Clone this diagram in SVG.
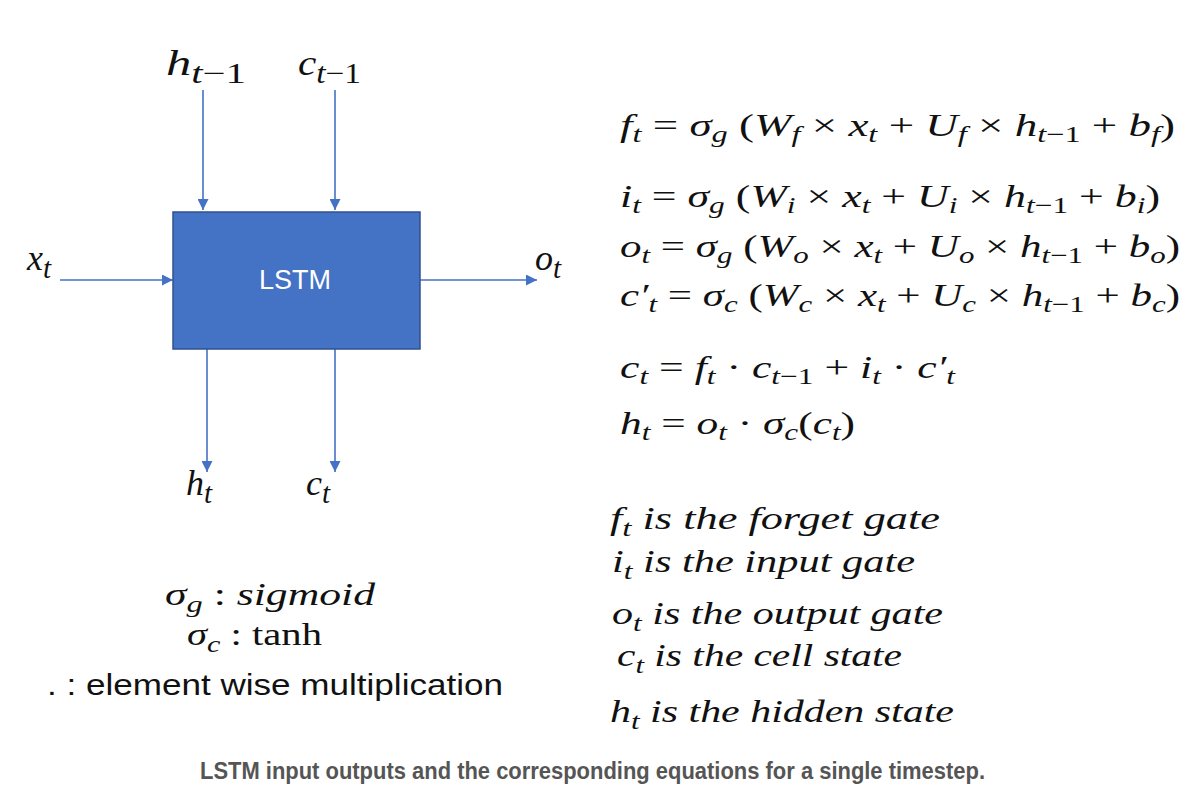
<svg xmlns="http://www.w3.org/2000/svg" width="1200" height="802" viewBox="0 0 1200 802">
<style>
.m{font-family:"Liberation Serif","DejaVu Serif",serif;font-style:italic;fill:#111;}
.u{font-style:normal;}
.lbl{font-size:36px;}
.eq{font-size:32px;}
.desc{font-size:31px;}
.conn{stroke:#4472C4;stroke-width:1.6;fill:none;marker-end:url(#ah);}
.sans{font-family:"Liberation Sans","Open Sans",sans-serif;}
</style>
<defs>
<marker id="ah" viewBox="0 0 10 10" refX="10" refY="5" markerWidth="11" markerHeight="11" markerUnits="userSpaceOnUse" orient="auto">
<path d="M0,0 L10,5 L0,10 z" fill="#4472C4"/>
</marker>
</defs>
<rect width="1200" height="802" fill="#ffffff"/>

<g id="connectors">
<line class="conn" x1="203" y1="90" x2="203" y2="210"/>
<line class="conn" x1="335" y1="90" x2="335" y2="210"/>
<line class="conn" x1="60" y1="280" x2="173" y2="280"/>
<line class="conn" x1="420" y1="280" x2="537" y2="280"/>
<line class="conn" x1="207" y1="349" x2="207" y2="472"/>
<line class="conn" x1="335" y1="349" x2="335" y2="472"/>
</g>

<g id="lstm">
<rect x="173" y="212" width="247" height="137" fill="#4472C4" stroke="#2F528F" stroke-width="1.5"/>
<text class="sans" x="295" y="289" font-size="27" fill="#ffffff" text-anchor="middle">LSTM</text>
</g>

<g id="label-h-prev"><text class="m lbl" x="166" y="75" textLength="80" lengthAdjust="spacingAndGlyphs">h<tspan font-size="29" dy="8">t</tspan><tspan class="u" font-size="29">−1</tspan></text></g>
<g id="label-c-prev"><text class="m lbl" x="298" y="75" textLength="63" lengthAdjust="spacingAndGlyphs">c<tspan font-size="29" dy="8">t</tspan><tspan class="u" font-size="29">−1</tspan></text></g>
<g id="label-x"><text class="m lbl" x="27" y="270">x<tspan font-size="29" dy="8">t</tspan></text></g>
<g id="label-o"><text class="m lbl" x="535" y="270">o<tspan font-size="29" dy="8">t</tspan></text></g>
<g id="label-h"><text class="m lbl" x="186" y="495">h<tspan font-size="29" dy="8">t</tspan></text></g>
<g id="label-c"><text class="m lbl" x="306" y="495">c<tspan font-size="29" dy="8">t</tspan></text></g>

<g id="equations">
<text class="m eq" x="620" y="136" textLength="555" lengthAdjust="spacingAndGlyphs">f<tspan font-size="23" dy="6">t</tspan><tspan class="u" dy="-6"> = </tspan>σ<tspan font-size="23" dy="6">g</tspan><tspan class="u" dy="-6"> (</tspan>W<tspan font-size="23" dy="6">f</tspan><tspan class="u" dy="-6"> ×  </tspan>x<tspan font-size="23" dy="6">t</tspan><tspan class="u" dy="-6"> + </tspan>U<tspan font-size="23" dy="6">f</tspan><tspan class="u" dy="-6"> × </tspan>h<tspan font-size="23" dy="6">t</tspan><tspan class="u" font-size="23">−1</tspan><tspan class="u" dy="-6"> + </tspan>b<tspan font-size="23" dy="6">f</tspan><tspan class="u" dy="-6">)</tspan></text>
<text class="m eq" x="620" y="207" textLength="540" lengthAdjust="spacingAndGlyphs">i<tspan font-size="23" dy="6">t</tspan><tspan class="u" dy="-6"> = </tspan>σ<tspan font-size="23" dy="6">g</tspan><tspan class="u" dy="-6"> (</tspan>W<tspan font-size="23" dy="6">i</tspan><tspan class="u" dy="-6"> ×  </tspan>x<tspan font-size="23" dy="6">t</tspan><tspan class="u" dy="-6"> + </tspan>U<tspan font-size="23" dy="6">i</tspan><tspan class="u" dy="-6"> × </tspan>h<tspan font-size="23" dy="6">t</tspan><tspan class="u" font-size="23">−1</tspan><tspan class="u" dy="-6"> + </tspan>b<tspan font-size="23" dy="6">i</tspan><tspan class="u" dy="-6">)</tspan></text>
<text class="m eq" x="620" y="257" textLength="560" lengthAdjust="spacingAndGlyphs">o<tspan font-size="23" dy="6">t</tspan><tspan class="u" dy="-6"> = </tspan>σ<tspan font-size="23" dy="6">g</tspan><tspan class="u" dy="-6"> (</tspan>W<tspan font-size="23" dy="6">o</tspan><tspan class="u" dy="-6"> ×  </tspan>x<tspan font-size="23" dy="6">t</tspan><tspan class="u" dy="-6"> + </tspan>U<tspan font-size="23" dy="6">o</tspan><tspan class="u" dy="-6"> × </tspan>h<tspan font-size="23" dy="6">t</tspan><tspan class="u" font-size="23">−1</tspan><tspan class="u" dy="-6"> + </tspan>b<tspan font-size="23" dy="6">o</tspan><tspan class="u" dy="-6">)</tspan></text>
<text class="m eq" x="620" y="306" textLength="560" lengthAdjust="spacingAndGlyphs">c′<tspan font-size="23" dy="6">t</tspan><tspan class="u" dy="-6"> = </tspan>σ<tspan font-size="23" dy="6">c</tspan><tspan class="u" dy="-6"> (</tspan>W<tspan font-size="23" dy="6">c</tspan><tspan class="u" dy="-6"> ×  </tspan>x<tspan font-size="23" dy="6">t</tspan><tspan class="u" dy="-6"> + </tspan>U<tspan font-size="23" dy="6">c</tspan><tspan class="u" dy="-6"> × </tspan>h<tspan font-size="23" dy="6">t</tspan><tspan class="u" font-size="23">−1</tspan><tspan class="u" dy="-6"> + </tspan>b<tspan font-size="23" dy="6">c</tspan><tspan class="u" dy="-6">)</tspan></text>
<text class="m eq" x="620" y="378" textLength="335" lengthAdjust="spacingAndGlyphs">c<tspan font-size="23" dy="6">t</tspan><tspan class="u" dy="-6"> = </tspan>f<tspan font-size="23" dy="6">t</tspan><tspan class="u" dy="-6"> · </tspan>c<tspan font-size="23" dy="6">t</tspan><tspan class="u" font-size="23">−1</tspan><tspan class="u" dy="-6"> + </tspan>i<tspan font-size="23" dy="6">t</tspan><tspan class="u" dy="-6"> · </tspan>c′<tspan font-size="23" dy="6">t</tspan></text>
<text class="m eq" x="620" y="434" textLength="235" lengthAdjust="spacingAndGlyphs">h<tspan font-size="23" dy="6">t</tspan><tspan class="u" dy="-6"> = </tspan>o<tspan font-size="23" dy="6">t</tspan><tspan class="u" dy="-6"> · </tspan>σ<tspan font-size="23" dy="6">c</tspan><tspan class="u" dy="-6">(</tspan>c<tspan font-size="23" dy="6">t</tspan><tspan class="u" dy="-6">)</tspan></text>
</g>

<g id="legend">
<text class="m desc" x="165" y="605" textLength="210" lengthAdjust="spacingAndGlyphs">σ<tspan font-size="23" dy="7">g</tspan><tspan class="u" dy="-7"> : </tspan>sigmoid</text>
<text class="m desc" x="187" y="645" textLength="135" lengthAdjust="spacingAndGlyphs">σ<tspan font-size="23" dy="7">c</tspan><tspan class="u" dy="-7"> : tanh</tspan></text>
<text class="sans" x="47" y="695" font-size="29" fill="#111" textLength="456" lengthAdjust="spacingAndGlyphs">. : element wise multiplication</text>
</g>

<g id="descriptions">
<text class="m desc" x="610" y="529" textLength="330" lengthAdjust="spacingAndGlyphs">f<tspan font-size="23" dy="7">t</tspan><tspan dy="-7"> is the forget gate</tspan></text>
<text class="m desc" x="612" y="572" textLength="303" lengthAdjust="spacingAndGlyphs">i<tspan font-size="23" dy="7">t</tspan><tspan dy="-7"> is the input gate</tspan></text>
<text class="m desc" x="612" y="624" textLength="331" lengthAdjust="spacingAndGlyphs">o<tspan font-size="23" dy="7">t</tspan><tspan dy="-7"> is the output gate</tspan></text>
<text class="m desc" x="617" y="666" textLength="285" lengthAdjust="spacingAndGlyphs">c<tspan font-size="23" dy="7">t</tspan><tspan dy="-7"> is the cell state</tspan></text>
<text class="m desc" x="610" y="722" textLength="344" lengthAdjust="spacingAndGlyphs">h<tspan font-size="23" dy="7">t</tspan><tspan dy="-7"> is the hidden state</tspan></text>
</g>

<g id="caption">
<text class="sans" x="200" y="779" font-size="23" font-weight="bold" fill="#555555" textLength="785" lengthAdjust="spacingAndGlyphs">LSTM input outputs and the corresponding equations for a single timestep.</text>
</g>
</svg>
